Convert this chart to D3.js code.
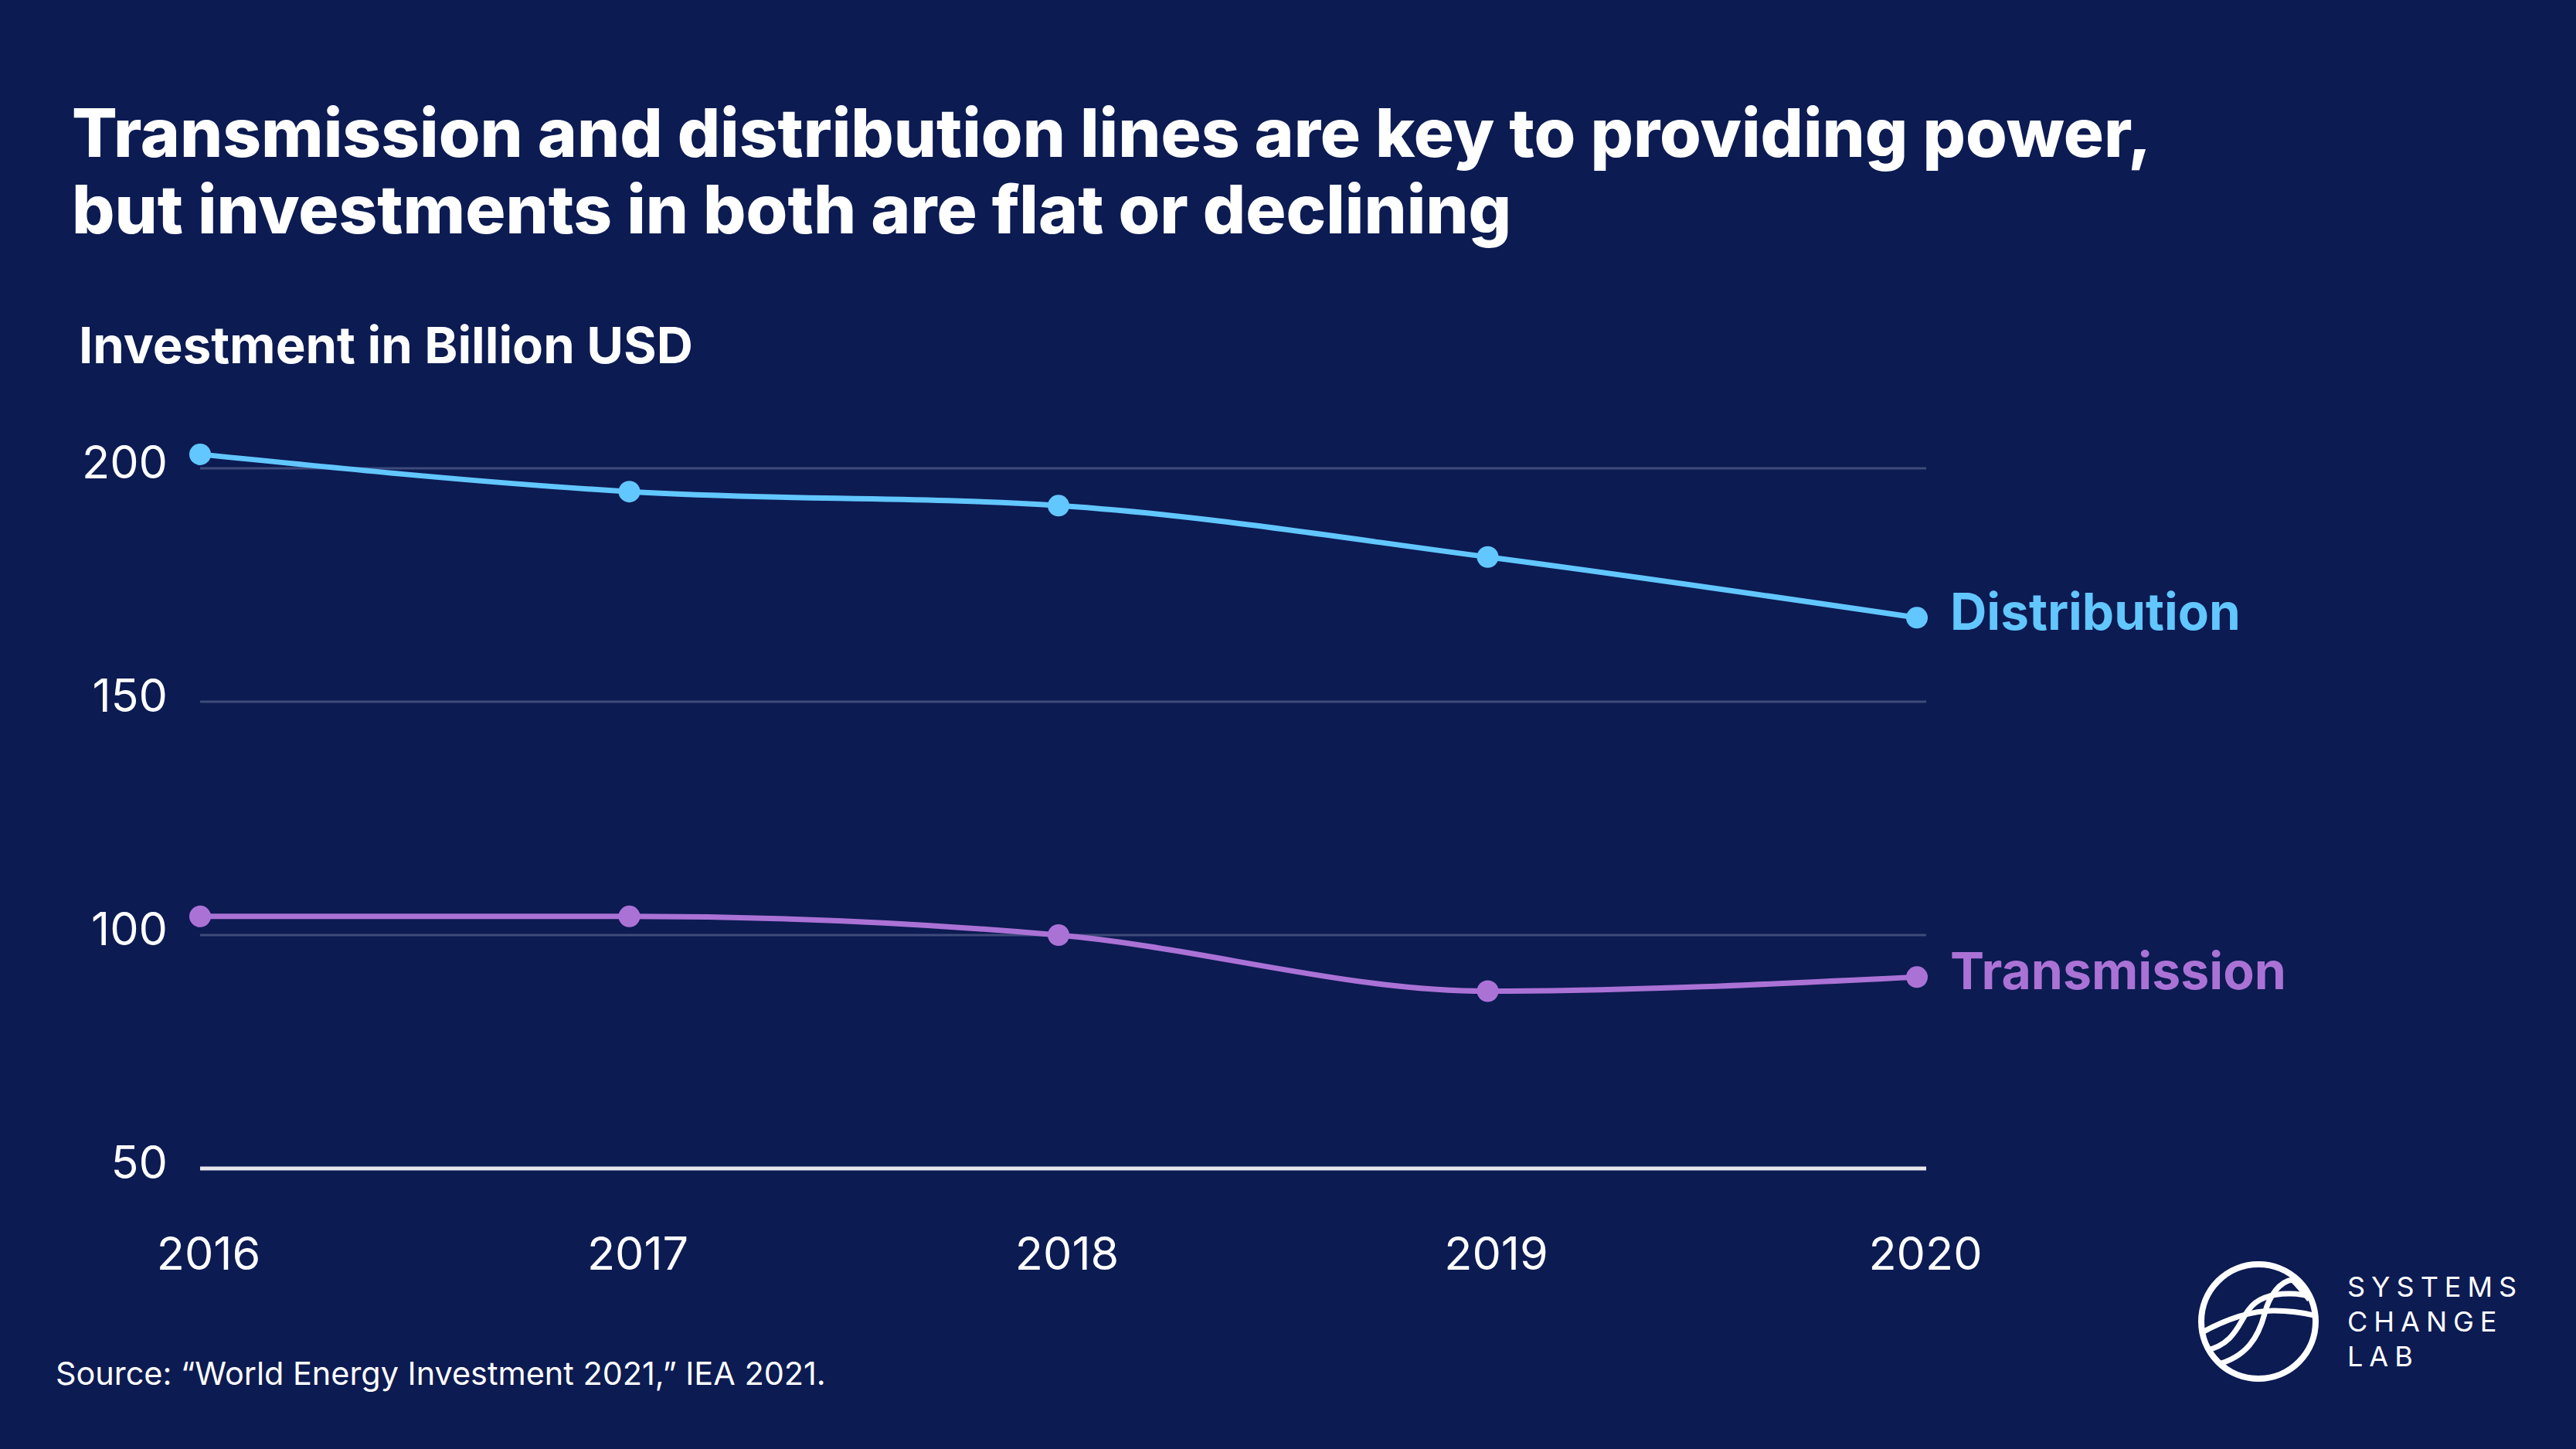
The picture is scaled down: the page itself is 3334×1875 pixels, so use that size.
<!DOCTYPE html>
<html>
<head>
<meta charset="utf-8">
<title>Transmission and distribution investment</title>
<script src="https://cdn.jsdelivr.net/npm/d3@7"></script>
<style>
  body { margin: 0; padding: 0; background: #0c1b52; }
</style>
</head>
<body>
<div id="chart"></div>
<script>
// data
var years = [2016, 2017, 2018, 2019, 2020]
var distribution = [203, 195, 192, 181, 168]
var transmission = [104, 104, 100, 88, 91]
var y_ticks = [50, 100, 150, 200]

var W = 3334, H = 1875
var back_colour = '#0c1b52'
var dist_colour = '#62c6ff'
var trans_colour = '#ab72d6'
var font = "Inter, 'Open Sans', sans-serif"

var svg = d3.select('#chart').append('svg')
  .attr('width', W).attr('height', H)
  .style('background-color', back_colour)

// scale a text's font size so it spans the width seen in the reference
function fit(sel, target) {
  var size = parseFloat(sel.attr('font-size'))
  var len = sel.node().getComputedTextLength()
  sel.attr('font-size', size * target / len)
  return size * target / len
}

var x = d3.scalePoint().domain(years).range([259, 2481])
var y = d3.scaleLinear().domain([50, 200]).range([1512, 606])

// titles
var t1 = svg.append('text').text('Transmission and distribution lines are key to providing power,')
  .attr('x', 93).attr('y', 203).attr('fill', 'white')
  .attr('font-family', font).attr('font-weight', 800).attr('font-size', 80)
var tsize = fit(t1, 2692)
svg.append('text').text('but investments in both are flat or declining')
  .attr('x', 93).attr('y', 302).attr('fill', 'white')
  .attr('font-family', font).attr('font-weight', 800).attr('font-size', tsize)

var yt = svg.append('text').text('Investment in Billion USD')
  .attr('x', 102).attr('y', 470).attr('fill', 'white')
  .attr('font-family', font).attr('font-weight', 700).attr('font-size', 56)
fit(yt, 795)

// grid
svg.selectAll('.grid').data(y_ticks.filter(d => d > 50)).enter()
  .append('line')
  .attr('class', 'grid')
  .attr('x1', 259).attr('x2', 2493)
  .attr('y1', d => y(d)).attr('y2', d => y(d))
  .style('stroke', '#3e4b7b').style('stroke-width', 3)

svg.append('line')
  .attr('x1', 259).attr('x2', 2493)
  .attr('y1', y(50)).attr('y2', y(50))
  .style('stroke', '#e8e8ec').style('stroke-width', 5)

// y tick labels
var yl = svg.selectAll('.ylab').data(y_ticks).enter()
  .append('text')
  .attr('class', 'ylab')
  .text(d => d)
  .attr('x', 217).attr('y', d => y(d) + 13)
  .attr('text-anchor', 'end')
  .attr('fill', 'white')
  .attr('font-family', font).attr('font-weight', 400).attr('font-size', 58)
var ysize = fit(d3.select(yl.nodes()[3]), 111)
yl.attr('font-size', ysize)

// x tick labels
svg.selectAll('.xlab').data(years).enter()
  .append('text')
  .attr('class', 'xlab')
  .text(d => d)
  .attr('x', d => x(d) + 11).attr('y', 1643)
  .attr('text-anchor', 'middle')
  .attr('fill', 'white')
  .attr('font-family', font).attr('font-weight', 400).attr('font-size', ysize)

// lines
var series = [
  {name: 'Distribution', values: distribution, colour: dist_colour},
  {name: 'Transmission', values: transmission, colour: trans_colour}
]

var line = d3.line()
  .x((d, i) => x(years[i]))
  .y(d => y(d))
  .curve(d3.curveMonotoneX)

series.forEach(s => {
  svg.append('path')
    .attr('d', line(s.values))
    .style('fill', 'none')
    .style('stroke', s.colour)
    .style('stroke-width', 7)

  svg.selectAll('.dot-' + s.name).data(s.values).enter()
    .append('circle')
    .attr('cx', (d, i) => x(years[i]))
    .attr('cy', d => y(d))
    .attr('r', 14)
    .style('fill', s.colour)

  var last = s.values[s.values.length - 1]
  var lab = svg.append('text').text(s.name)
    .attr('x', 2524).attr('y', y(last) + 16)
    .attr('fill', s.colour)
    .attr('font-family', font).attr('font-weight', 700).attr('font-size', 62)
  fit(lab, s.name == 'Distribution' ? 376 : 435)
})

// source
var src = svg.append('text').text('Source: \u201cWorld Energy Investment 2021,\u201d IEA 2021.')
  .attr('x', 72).attr('y', 1792).attr('fill', 'white')
  .attr('font-family', font).attr('font-weight', 400).attr('font-size', 40)
fit(src, 997)

// logo
var logo = svg.append('g').attr('transform', 'translate(2923,1710)')
logo.append('clipPath').attr('id', 'lc').append('circle').attr('r', 74)
logo.append('circle').attr('r', 74)
  .style('fill', 'none').style('stroke', 'white').style('stroke-width', 8)
var lg = logo.append('g').attr('clip-path', 'url(#lc)')
var logo_paths = [
  'M-80,18 C-45,-2 -10,-14 20,-14 C45,-14 65,-10 80,-6',
  'M-70,38 C-30,30 -25,0 -12,-16 C0,-32 20,-36 40,-36 C55,-36 70,-32 80,-28',
  'M-55,56 C-15,46 0,20 8,-10 C14,-34 28,-52 44,-54 C52,-46 60,-36 66,-28'
]
lg.selectAll('path').data(logo_paths).enter().append('path')
  .attr('d', d => d)
  .style('fill', 'none').style('stroke', 'white').style('stroke-width', 7)

var logo_words = ['SYSTEMS', 'CHANGE', 'LAB']
svg.selectAll('.logo-word').data(logo_words).enter()
  .append('text')
  .attr('class', 'logo-word')
  .text(d => d)
  .attr('x', 3038).attr('y', (d, i) => 1678 + i * 45)
  .attr('fill', 'white')
  .attr('font-family', font).attr('font-weight', 400).attr('font-size', 36)
  .attr('letter-spacing', 8)
</script>
</body>
</html>
